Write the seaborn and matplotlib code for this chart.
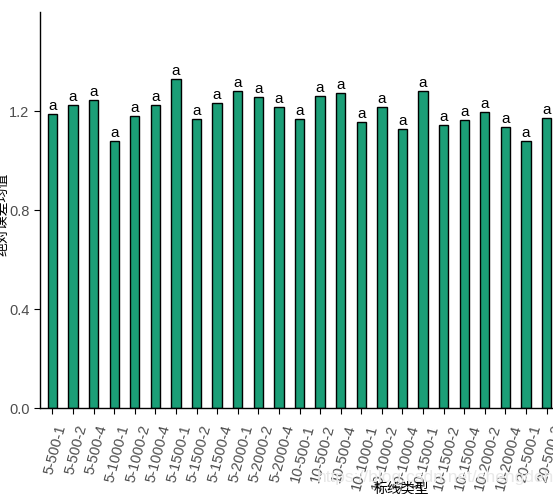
import matplotlib
matplotlib.use("Agg")
import matplotlib.pyplot as plt
import matplotlib.transforms as mtransforms
import seaborn as sns
import pandas as pd

categories = ["5-500-1", "5-500-2", "5-500-4", "5-1000-1", "5-1000-2", "5-1000-4",
              "5-1500-1", "5-1500-2", "5-1500-4", "5-2000-1", "5-2000-2", "5-2000-4",
              "10-500-1", "10-500-2", "10-500-4", "10-1000-1", "10-1000-2", "10-1000-4",
              "10-1500-1", "10-1500-2", "10-1500-4", "10-2000-2", "10-2000-4",
              "20-500-1", "20-500-2"]
values = [1.188, 1.225, 1.245, 1.080, 1.180, 1.225, 1.330, 1.168, 1.233, 1.281,
          1.257, 1.217, 1.168, 1.262, 1.274, 1.156, 1.217, 1.128, 1.281, 1.144,
          1.165, 1.196, 1.136, 1.080, 1.172]
letters = ["a"] * len(categories)
y_ticks = [0.0, 0.4, 0.8, 1.2]

df = pd.DataFrame({"type": categories, "mean": values, "sig": letters})

sns.set_theme(style="white")
plt.rcParams["font.family"] = ["Liberation Sans", "Noto Sans CJK SC", "DejaVu Sans"]

W, H = 553, 494
fig = plt.figure(figsize=(W / 100, H / 100), dpi=100)
left, right, top, bottom = 40, 559, 12, 408
ax = fig.add_axes([left / W, 1 - bottom / H, (right - left) / W, (bottom - top) / H])

sns.barplot(data=df, x="type", y="mean", color="#1B9E77", saturation=1,
            edgecolor="black", linewidth=1.0, width=0.45, ax=ax)

for i, (v, s) in enumerate(zip(values, letters)):
    ax.text(i, v + 0.003, s, ha="center", va="bottom", fontsize=11, color="black")

ax.set_xlim(-0.6, len(categories) - 0.4)
ax.set_ylim(0, 1.6)
ax.set_yticks(y_ticks)
ax.set_yticklabels([f"{t:.1f}" for t in y_ticks])
ax.tick_params(axis="both", labelsize=10.5, length=4, width=0.8,
               direction="out", bottom=True, left=True, colors="black",
               labelcolor="#4D4D4D")
ax.tick_params(axis="x", pad=7)
shift = mtransforms.ScaledTranslation(3 / 100, 0, fig.dpi_scale_trans)
for lab in ax.get_xticklabels():
    lab.set_rotation(75)
    lab.set_ha("center")
    lab.set_va("top")
    lab.set_rotation_mode("default")
    lab.set_transform(lab.get_transform() + shift)

for sp in ["top", "right"]:
    ax.spines[sp].set_visible(False)
for sp in ["left", "bottom"]:
    ax.spines[sp].set_color("black")
    ax.spines[sp].set_linewidth(1.0)

cjk = ["Noto Sans CJK SC", "DejaVu Sans"]
ax.set_xlabel("标线类型", fontsize=10, color="black", family=cjk)
ax.set_ylabel("绝对误差均值", fontsize=10, color="black", family=cjk)
ax.xaxis.set_label_coords((401 - left) / (right - left), -(481 - bottom) / (bottom - top))
ax.yaxis.set_label_coords(-(left - 10) / (right - left), 0.49)

fig.text(317 / W, 1 - 477 / H, "https://blog.csdn.net/chengdehe", fontsize=12.5,
         color="#E8E8E8", va="center", ha="left", zorder=0)

fig.savefig("out.png", dpi=100)
